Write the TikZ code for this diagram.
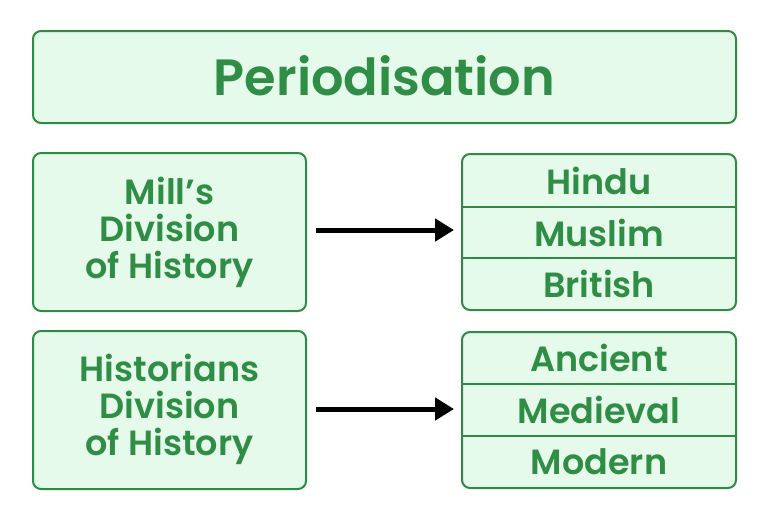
\documentclass[tikz,border=0pt]{standalone}
\usepackage{fontspec}
\setmainfont{Poppins}[BoldFont={Poppins SemiBold}]
\usetikzlibrary{arrows.meta}
\definecolor{gfg}{HTML}{2F8D46}
\definecolor{gfgfill}{HTML}{E6FAEB}
\definecolor{gfgline}{HTML}{2E8B43}
\tikzset{
  box/.style={draw=gfgline, line width=2pt, fill=gfgfill, rounded corners=8pt, inner sep=0pt},
  lbl/.style={text=gfg, font=\fontsize{35}{37}\selectfont\bfseries, align=center, inner sep=0pt},
  sep/.style={draw=gfgline, line width=2pt},
  arr/.style={line width=5pt, -{Triangle[length=19pt,width=22pt]}}
}
\begin{document}
\begin{tikzpicture}[x=1pt,y=-1pt]
\useasboundingbox (0,0) rectangle (768,520);
% title
\node[box, minimum width=703pt, minimum height=92pt] (title) at (384.5,77) {};
\node[lbl, font=\fontsize{51}{56}\selectfont\bfseries] (titletext) at (384.5,76) {Periodisation};
% row 1
\node[box, minimum width=273pt, minimum height=158pt] (mill) at (169.5,232) {};
\node[lbl] (milltext) at (169.5,232) {Mill’s\\Division\\of History};
\node[box, minimum width=274pt, minimum height=156pt] (r1) at (599,232) {};
\coordinate (r1a) at (462,207); \coordinate (r1b) at (736,207);
\coordinate (r1c) at (462,258); \coordinate (r1d) at (736,258);
\draw[sep] (r1a) -- (r1b);
\draw[sep] (r1c) -- (r1d);
\node[lbl] (hindu) at (599,180.5) {Hindu};
\node[lbl] (muslim) at (599,232.5) {Muslim};
\node[lbl] (british) at (599,284) {British};
\coordinate (a1s) at (316,230); \coordinate (a1e) at (454,230);
\draw[arr] (a1s) -- (a1e);
% row 2
\node[box, minimum width=273pt, minimum height=158pt] (hist) at (169.5,410) {};
\node[lbl] (histtext) at (169.5,409) {Historians\\Division\\of History};
\node[box, minimum width=274pt, minimum height=156pt] (r2) at (599,410) {};
\coordinate (r2a) at (462,384); \coordinate (r2b) at (736,384);
\coordinate (r2c) at (462,436); \coordinate (r2d) at (736,436);
\draw[sep] (r2a) -- (r2b);
\draw[sep] (r2c) -- (r2d);
\node[lbl] (ancient) at (599,358) {Ancient};
\node[lbl] (medieval) at (599,410) {Medieval};
\node[lbl] (modern) at (599,462) {Modern};
\coordinate (a2s) at (316,409); \coordinate (a2e) at (454,409);
\draw[arr] (a2s) -- (a2e);
\end{tikzpicture}
\end{document}
